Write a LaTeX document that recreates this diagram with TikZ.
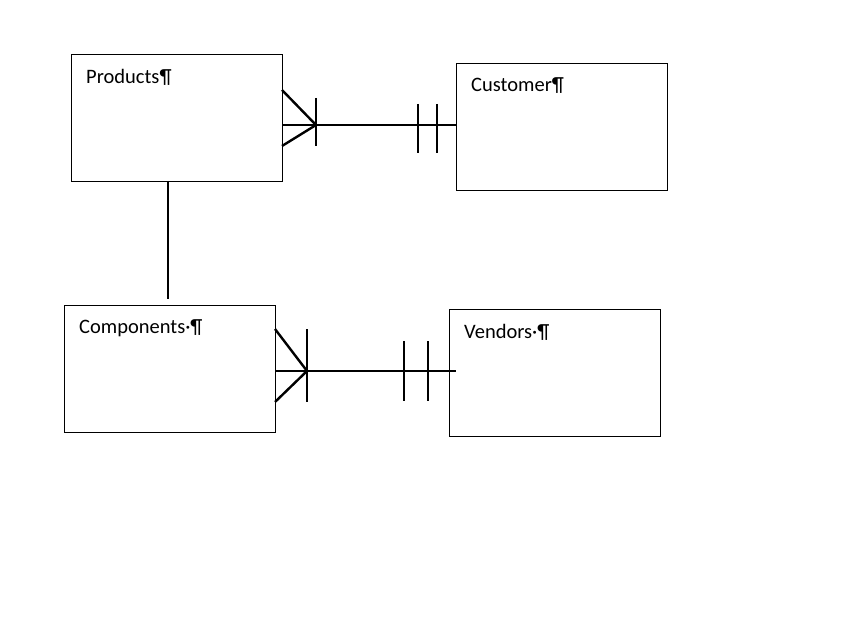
\documentclass[tikz,border=0pt]{standalone}
\usepackage{fontspec}
\setmainfont{Carlito}
\begin{document}
\begin{tikzpicture}[x=1pt,y=-1pt,
  box/.style={draw=black,line width=0.8pt,minimum width=211pt,minimum height=127pt,anchor=north west,inner sep=0pt},
  lbl/.style={anchor=west,font=\fontsize{20.5}{24}\selectfont,inner sep=0pt},
  rel/.style={line width=2.4pt}]
\useasboundingbox[fill=white] (0,0) rectangle (868,631);
\node[box] (prod) at (71,54) {};
\node[box] (cust) at (456,63) {};
\node[box] (comp) at (64,305) {};
\node[box] (vend) at (449,309) {};
\node[lbl] (tp) at (86,77) {Products¶};
\node[lbl] (tc) at (471,86) {Customer¶};
\node[lbl] (tm) at (79,328) {Components·¶};
\node[lbl] (tv) at (464,332) {Vendors·¶};
\coordinate (pc1) at (282,125);
\coordinate (pc2) at (456,125);
\draw[rel] (pc1) -- (pc2);
\draw[rel] (282,90) -- (316,125) -- (282,146);
\draw[rel] (316,98) -- (316,146);
\draw[rel] (418,104) -- (418,153);
\draw[rel] (437,104) -- (437,153);
\coordinate (pv1) at (168,181);
\coordinate (pv2) at (168,299);
\draw[rel] (pv1) -- (pv2);
\coordinate (cv1) at (275,371);
\coordinate (cv2) at (456,371);
\draw[rel] (cv1) -- (cv2);
\draw[rel] (275,329) -- (307,371) -- (275,402);
\draw[rel] (307,329) -- (307,402);
\draw[rel] (404,341) -- (404,401);
\draw[rel] (428,341) -- (428,401);
\end{tikzpicture}
\end{document}
